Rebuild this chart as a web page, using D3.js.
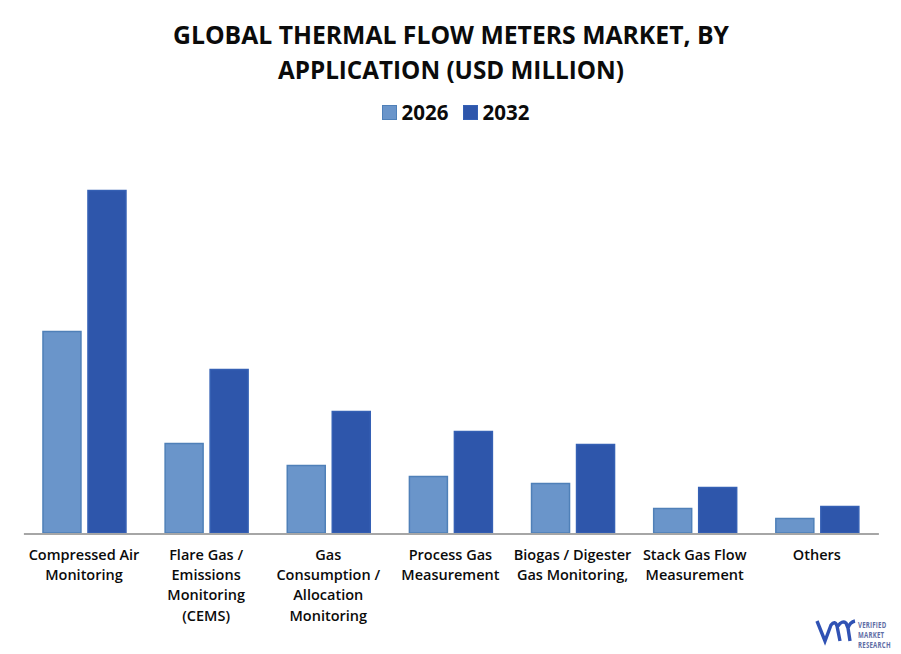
<!DOCTYPE html>
<html><head><meta charset="utf-8">
<script src="https://cdn.jsdelivr.net/npm/d3@7"></script>
<style>html,body{margin:0;padding:0;background:#fff}svg{display:block}text{font-family:"Open Sans",sans-serif;fill:#0b0b0b}</style>
</head><body><svg id="c" width="901" height="654"></svg>
<script>
const categories=["Compressed Air Monitoring","Flare Gas / Emissions Monitoring (CEMS)","Gas Consumption / Allocation Monitoring","Process Gas Measurement","Biogas / Digester Gas Monitoring,","Stack Gas Flow Measurement","Others"];
const tickLines=[["Compressed Air","Monitoring"],["Flare Gas /","Emissions","Monitoring","(CEMS)"],["Gas","Consumption /","Allocation","Monitoring"],["Process Gas","Measurement"],["Biogas / Digester","Gas Monitoring,"],["Stack Gas Flow","Measurement"],["Others"]];
const seriesNames=["2026","2032"];
const values2026=[202,90,68,57,50,25,15];
const values2032=[343,164,122,102,89,46,27];
const seriesColors=["#6a95ca","#2e56ab"];
const strokeColors=["#4f80b8","#3560b4"];
const titleLines=["GLOBAL THERMAL FLOW METERS MARKET, BY","APPLICATION (USD MILLION)"];
const logoLines=["VERIFIED","MARKET","RESEARCH"];

const svg=d3.select("#c");
svg.selectAll("text.title").data(titleLines).join("text").attr("class","title")
 .attr("x",451).attr("y",(d,i)=>44+i*35).attr("text-anchor","middle")
 .attr("font-size",25).attr("font-weight",700).attr("textLength",(d,i)=>i?346:556).attr("lengthAdjust","spacingAndGlyphs").text(d=>d);

const x0=d3.scaleBand().domain(categories).range([23.4,878.4]);
const x1=d3.scaleBand().domain(seriesNames).range([-42,42]).paddingInner(6/45);
const y=d3.scaleLinear().domain([0,343]).range([533,190]);

const rows=[values2026,values2032];
seriesNames.forEach((s,si)=>{
 svg.append("g").selectAll("rect").data(categories).join("rect")
  .attr("x",d=>x0(d)+x0.bandwidth()/2+x1(s)+.5)
  .attr("width",x1.bandwidth()-1)
  .attr("y",(d,i)=>y(rows[si][i])+.5)
  .attr("height",(d,i)=>y(0)-y(rows[si][i])-.5)
  .attr("fill",seriesColors[si]).attr("stroke",strokeColors[si]).attr("stroke-width",1.5);
});

const axis=svg.append("g").attr("transform","translate(0,533.5)").call(d3.axisBottom(x0).tickSize(0).tickPadding(0));
axis.select(".domain").attr("stroke","#a6a6a6").attr("stroke-width",2);
axis.selectAll(".tick text").each(function(d,i){
 const t=d3.select(this).text(null).attr("y",0).attr("dy",null);
 tickLines[i].forEach((l,j)=>t.append("tspan").attr("x",-.5).attr("y",26+j*20.4).text(l));
}).attr("font-size",14.5).attr("font-weight",600).attr("font-family",'"Open Sans",sans-serif').attr("fill","#0b0b0b");

const legX=d3.scalePoint().domain(seriesNames).range([382.5,463.5]);
const leg=svg.append("g").selectAll("g").data(seriesNames).join("g").attr("transform",d=>`translate(${legX(d)},105.5)`);
leg.append("rect").attr("width",14).attr("height",14).attr("fill",(d,i)=>seriesColors[i]).attr("stroke",(d,i)=>strokeColors[i]).attr("stroke-width",1);
leg.append("text").attr("x",19).attr("y",14.5).attr("font-size",20.5).attr("font-weight",700).text(d=>d);

const logo=svg.append("g").attr("transform","translate(815,620)");
logo.append("path").attr("d","M2 1 L10 21 L16 5 Q20 0 22 6 L25 21 M23 6 Q27 0 31 3 L33 8 L35 21 M33 8 Q35 2 40 1").attr("fill","none").attr("stroke","#3052b4").attr("stroke-width",3.4);
logo.append("g").attr("transform","translate(43,0) scale(0.72,1)").selectAll("text").data(logoLines).join("text").attr("x",0).attr("y",(d,i)=>7.5+i*10.4)
 .attr("font-size",8.5).attr("font-family",'"Liberation Sans",sans-serif').attr("font-weight",700).attr("letter-spacing",.3).style("fill","#5f6ea6").text(d=>d);
</script></body></html>
